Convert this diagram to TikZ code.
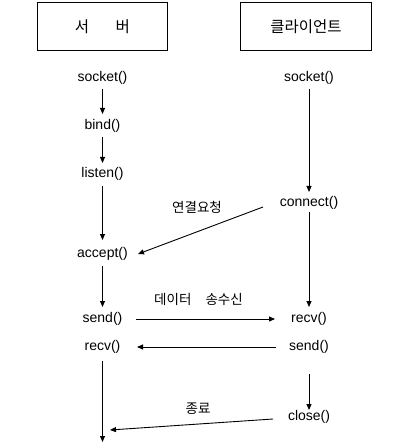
\documentclass[tikz,border=0pt]{standalone}
\usepackage{fontspec}
\setmainfont{Liberation Sans}
\newfontfamily\kr{Noto Sans CJK KR}
\usetikzlibrary{arrows.meta}
\begin{document}
\begin{tikzpicture}[x=1pt,y=-1pt,line width=0.9pt,
  lbl/.style={font=\fontsize{14}{16}\selectfont, inner sep=0pt},
  krl/.style={font=\kr\fontsize{13.5}{16}\selectfont, inner sep=0pt},
  krbox/.style={draw, line width=1pt, font=\kr\fontsize{15.5}{18}\selectfont},
  arr/.style={-{Triangle[length=6pt,width=5pt]}}]
\useasboundingbox (0,0) rectangle (409,443);
% boxes
\node[krbox, minimum width=130pt, minimum height=48pt] (server) at (102.3,26.3) {서\hspace{26.5pt}버};
\node[krbox, minimum width=130.6pt, minimum height=48pt] (client) at (306,26.3) {클라이언트};
% server column
\node[lbl] (ssock) at (102.5,78) {socket()};
\node[lbl] (sbind) at (102.5,126) {bind()};
\node[lbl] (slist) at (102.5,174) {listen()};
\node[lbl] (sacc) at (102.5,254) {accept()};
\node[lbl] (ssend) at (102.5,319) {send()};
\node[lbl] (srecv) at (102.5,347) {recv()};
\coordinate (send) at (102.5,442);
% client column
\node[lbl] (csock) at (309,78) {socket()};
\node[lbl] (cconn) at (309,203) {connect()};
\node[lbl] (crecv) at (309,319) {recv()};
\node[lbl] (csend) at (309,347) {send()};
\node[lbl] (cclose) at (309,417) {close()};
% labels
\node[krl] (lreq) at (197,207) {연결요청};
\node[krl] (ldata) at (198.5,299) {데이터\hspace{14pt}송수신};
\node[krl] (lend) at (198,408.5) {종료};
% coordinates for slanted lines
\coordinate (reqs) at (263,207);
\coordinate (reqe) at (138,254);
\coordinate (ends) at (273,419);
\coordinate (ende) at (110,430);
% server arrows
\draw[arr, shorten <=11pt, shorten >=12pt] (ssock.center) -- (sbind.center);
\draw[arr, shorten <=11pt, shorten >=11pt] (sbind.center) -- (slist.center);
\draw[arr, shorten <=12pt, shorten >=14pt] (slist.center) -- (sacc.center);
\draw[arr, shorten <=12pt, shorten >=12pt] (sacc.center) -- (ssend.center);
\draw[arr, shorten <=14pt] (srecv.center) -- (send);
% client arrows
\draw[arr, shorten <=11pt, shorten >=11pt] (csock.center) -- (cconn.center);
\draw[arr, shorten <=9pt, shorten >=12pt] (cconn.center) -- (crecv.center);
\draw[arr, shorten <=27pt, shorten >=7pt] (csend.center) -- (cclose.center);
% cross arrows
\draw[arr] (reqs) -- (reqe);
\draw[arr, shorten <=33.5pt, shorten >=34pt] (ssend.center) -- (crecv.center);
\draw[arr, shorten <=33pt, shorten >=34.5pt] (csend.center) -- (srecv.center);
\draw[arr] (ends) -- (ende);
\end{tikzpicture}
\end{document}
